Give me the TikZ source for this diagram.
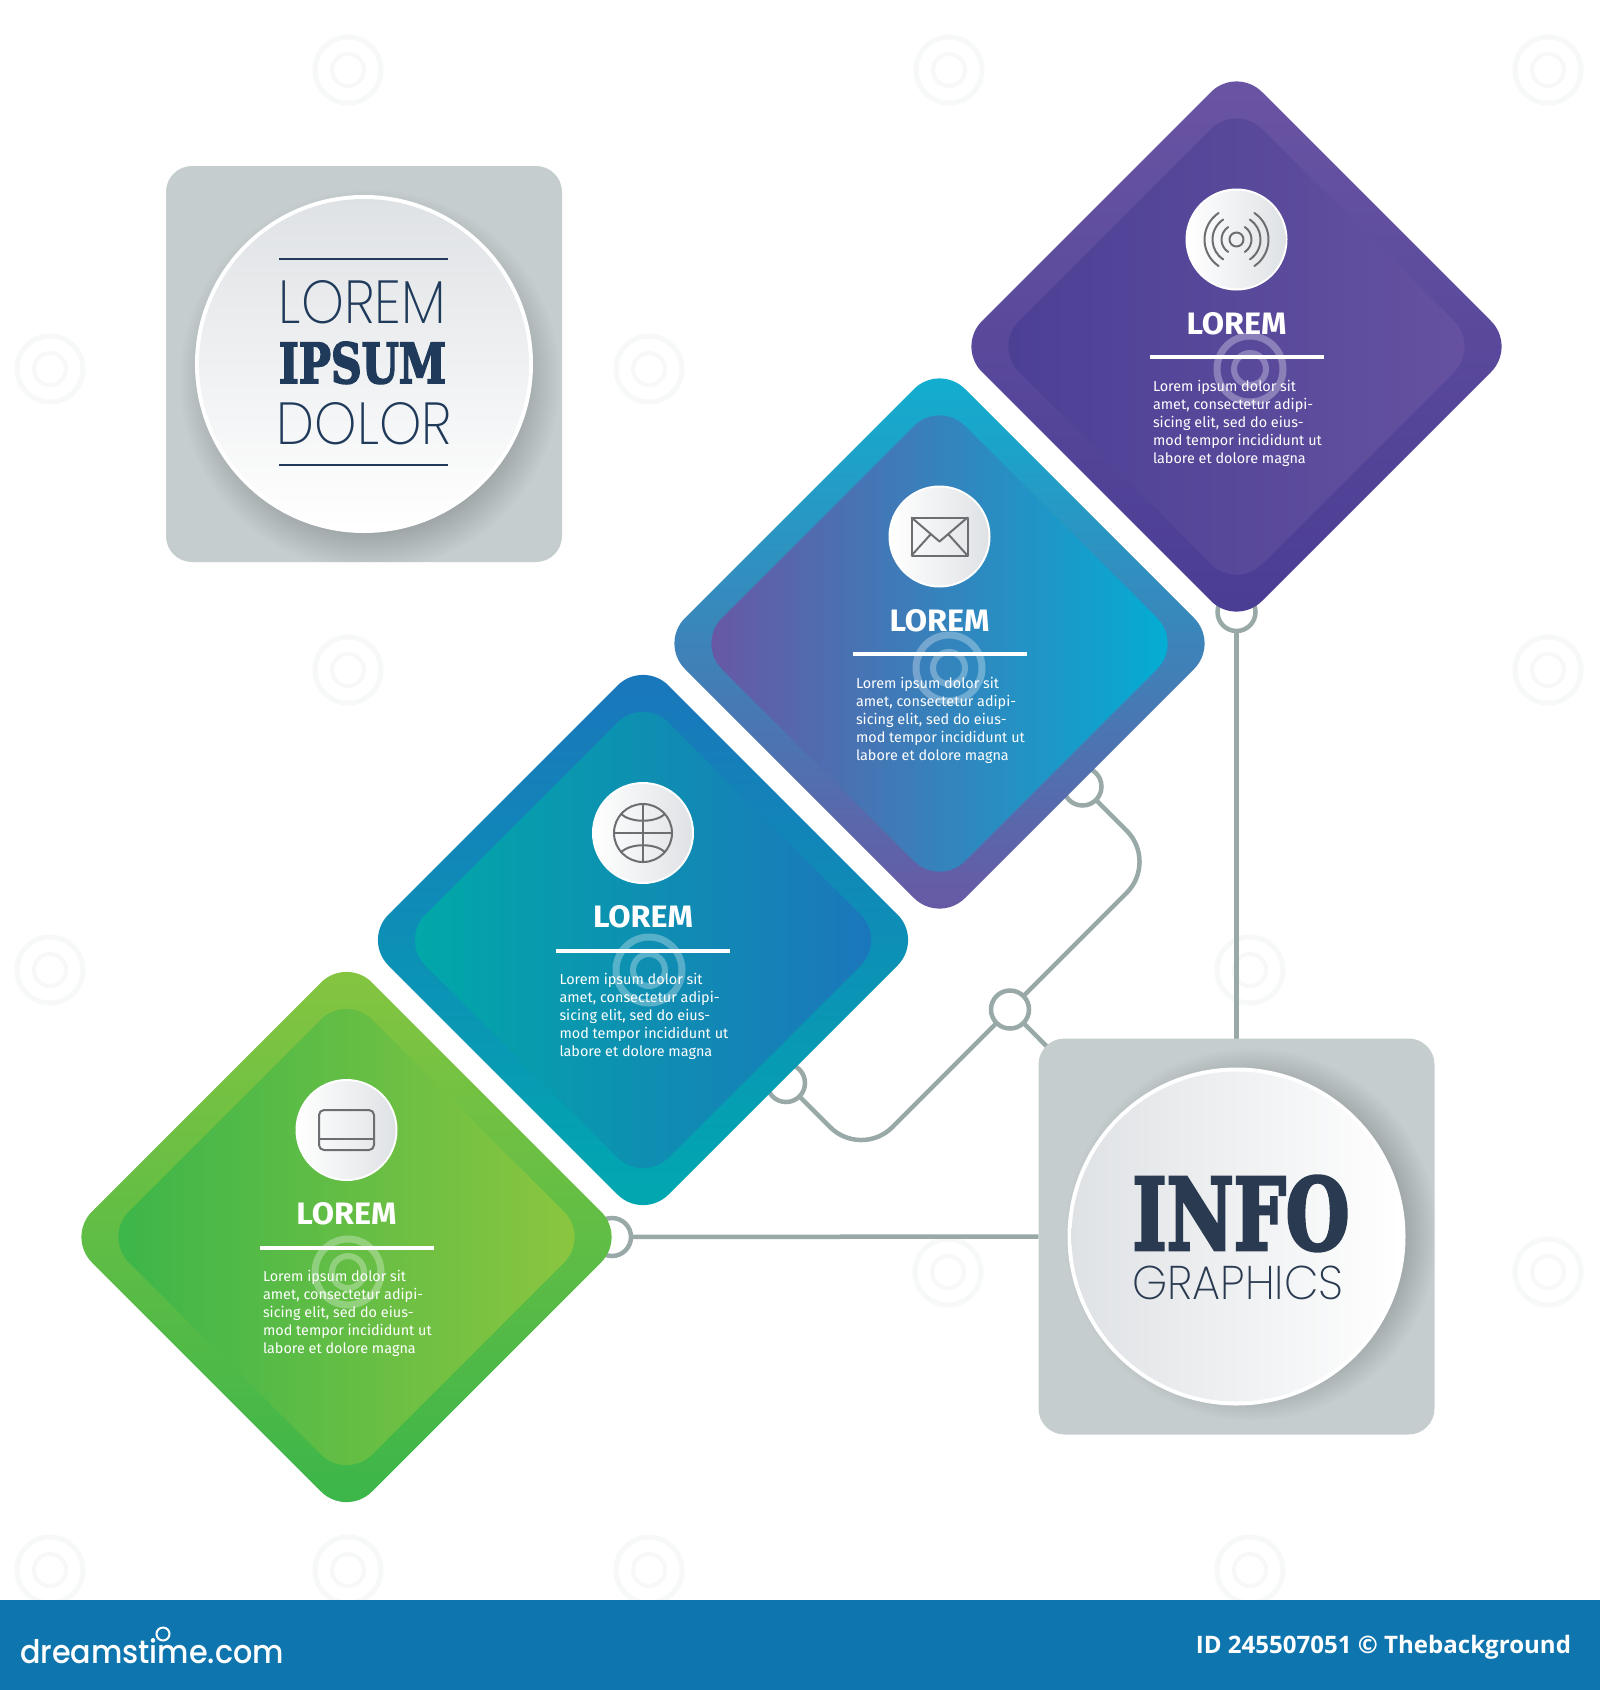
\documentclass[tikz,border=0pt]{standalone}
\usepackage{graphicx}
\usepackage{fontspec}
\usetikzlibrary{shapes.geometric,calc,backgrounds}
\setmainfont{Fira Sans}
\newfontfamily\thinfont{Poppins ExtraLight}
\newfontfamily\slabfont[FakeBold=3.5]{DejaVu Serif Bold}
\newfontfamily\footfont{Open Sans}
\newfontfamily\logofont{Poppins Medium}
\definecolor{panelgrey}{HTML}{C5CDCF}
\definecolor{connline}{HTML}{98A9A8}
\definecolor{inkA}{HTML}{1F3A5A}
\definecolor{inkB}{HTML}{2A3A50}
\definecolor{iconink}{HTML}{6D6E71}
\definecolor{footblue}{HTML}{0F75AE}
\definecolor{discshade}{HTML}{DFE2E5}
\definecolor{shadowcol}{HTML}{5F6B6B}
\definecolor{markcol}{HTML}{DDE0E0}
\tikzset{
  panelbox/.style={rectangle,fill=panelgrey,minimum size=396pt,inner sep=0pt,outer sep=0pt,rounded corners=26pt},
  discring/.style={circle,fill=white,minimum size=338pt,inner sep=0pt,outer sep=0pt},
  discface/.style={circle,minimum size=330pt,inner sep=0pt,outer sep=0pt},
  outercard/.style={diamond,aspect=1,minimum width=560pt,minimum height=560pt,inner sep=0pt,outer sep=0pt,rounded corners=36pt},
  innercard/.style={diamond,aspect=1,minimum width=486pt,minimum height=486pt,inner sep=0pt,outer sep=0pt,rounded corners=36pt},
  iconring/.style={circle,fill=white,minimum size=102pt,inner sep=0pt,outer sep=0pt},
  iconface/.style={circle,minimum size=98pt,inner sep=0pt,outer sep=0pt,left color=white,right color=discshade},
  joint/.style={circle,draw=connline,line width=4.5pt,fill=white,minimum size=38pt,inner sep=0pt,outer sep=0pt},
  conn/.style={draw=connline,line width=4.5pt},
  iconline/.style={draw=iconink,line width=2pt,line cap=round,line join=round},
  plainlabel/.style={inner sep=0pt,outer sep=0pt,anchor=base},
  bodytext/.style={inner sep=0pt,outer sep=0pt,anchor=north west,align=left,text=white,font=\fontsize{14.4}{18}\selectfont},
  headrule/.style={draw=white,line width=4pt},
  inkrule/.style={draw=inkA,line width=2pt},
}
\newcommand{\swirlpage}[2]{%
  \draw[markcol,opacity=.22,line width=5pt] (#1,#2) circle[radius=33pt];
  \draw[markcol,opacity=.22,line width=4pt] (#1,#2) circle[radius=16pt];
}
\newcommand{\swirlcard}[2]{%
  \draw[white,opacity=.3,line width=7pt] (#1,#2) circle[radius=33pt];
  \draw[white,opacity=.3,line width=6pt] (#1,#2) circle[radius=16pt];
}
\newcommand{\infocard}[7]{%
  \definecolor{top#1}{HTML}{#4}\definecolor{bot#1}{HTML}{#5}%
  \definecolor{lft#1}{HTML}{#6}\definecolor{rgt#1}{HTML}{#7}%
  \node[outercard,top color=top#1,bottom color=bot#1] (card#1) at (#2,#3) {};
  \node[innercard,left color=lft#1,right color=rgt#1] (inner#1) at (card#1.center) {};
  \node[iconring] (ring#1) at ($(card#1.center)+(0,-107)$) {};
  \node[iconface] (icon#1) at (ring#1.center) {};
  \node[plainlabel,text=white] (head#1) at ($(card#1.center)+(0,-12.5)$) {\resizebox{100pt}{22pt}{\bfseries LOREM}};
  \coordinate (ruleL#1) at ($(card#1.center)+(-87,10.5)$);
  \coordinate (ruleR#1) at ($(card#1.center)+(87,10.5)$);
  \draw[headrule] (ruleL#1) -- (ruleR#1);
  \node[bodytext] (body#1) at ($(card#1.center)+(-83.5,33.5)$) {Lorem ipsum dolor sit\\amet, consectetur adipi-\\sicing elit, sed do eius-\\mod tempor incididunt ut\\labore et dolore magna};
}
\begin{document}
\begin{tikzpicture}[x=1pt,y=-1pt]
\useasboundingbox (0,0) rectangle (1600,1690);
% joints
\node[joint] (jointD) at (1236.5,612) {};
\node[joint] (jointC) at (1082.5,786.5) {};
\node[joint] (jointB) at (786,1083) {};
\node[joint] (jointA) at (612,1237) {};
\node[joint] (jointM) at (1010,1009.5) {};
\coordinate (bendR) at (1157.75,861.75);
\coordinate (bendL) at (861.25,1158.25);
% title panel
\node[panelbox] (panelA) at (364,364) {};
\begin{scope}
  \clip[rounded corners=26pt] (panelA.south west) rectangle (panelA.north east);
  \foreach \i in {1,...,20}{\fill[shadowcol,opacity=.018] ($(panelA.center)+(6,16)$) circle[radius={150pt+\i*2pt}];}
\end{scope}
\node[discring] (discringA) at (panelA.center) {};
\node[discface,top color=discshade,bottom color=white] (discA) at (panelA.center) {};
\coordinate (ruleAtl) at (279,259);
\coordinate (ruleAtr) at (448,259);
\coordinate (ruleAbl) at (279,465);
\coordinate (ruleAbr) at (448,465);
\draw[inkrule] (ruleAtl) -- (ruleAtr);
\draw[inkrule] (ruleAbl) -- (ruleAbr);
\node[plainlabel,text=inkA] (tLorem) at (362.5,323) {\resizebox{167pt}{43pt}{\thinfont LOREM}};
\node[plainlabel,text=inkA] (tIpsum) at (362.5,383) {\resizebox{167pt}{41pt}{\slabfont IPSUM}};
\node[plainlabel,text=inkA] (tDolor) at (364.5,444) {\resizebox{175pt}{42pt}{\thinfont DOLOR}};
% info panel
\node[panelbox] (info) at (1236.5,1236.5) {};
\begin{scope}
  \clip[rounded corners=26pt] (info.south west) rectangle (info.north east);
  \foreach \i in {1,...,20}{\fill[shadowcol,opacity=.018] ($(info.center)+(15,-2)$) circle[radius={150pt+\i*1.8pt}];}
\end{scope}
\node[discring] (discringB) at (info.center) {};
\node[discface,left color=discshade,right color=white] (discB) at (info.center) {};
\node[plainlabel,text=inkB] (tInfo) at (1241,1249.5) {\resizebox{217pt}{73.5pt}{\slabfont INFO}};
\node[plainlabel,text=inkB] (tGraph) at (1238,1299) {\resizebox{211pt}{33.5pt}{\thinfont GRAPHICS}};
% cards
\infocard{A}{346.5}{1237}{86C540}{3AB54A}{3AB54A}{8DC63F}
\infocard{B}{643}{940}{1A75BC}{00A9B0}{00A9A8}{1C75BC}
\infocard{C}{939.5}{643.5}{0FB0D0}{6A57A3}{6B55A3}{00B0D5}
\infocard{D}{1236.5}{346.5}{6A55A3}{493C93}{4B3F95}{6652A0}
% connectors
\begin{scope}[on background layer]
  \fill[white] (0,0) rectangle (1600,1690);
  \foreach \px/\py in {348/70,949/70,1548/70,50/369,649/369,348/670,1548/670,50/970,1250/970,948/1272,1548/1272,348/1570,50/1570,649/1570,1250/1570}{\swirlpage{\px}{\py}}
  \draw[conn] (jointA.center) -- (info.west);
  \draw[conn] (jointD.center) -- (info.north);
  \draw[conn] (jointM.center) -- (info.center);
  \draw[conn,rounded corners=44pt] (jointC.center) -- (bendR) -- (jointM.center);
  \draw[conn,rounded corners=44pt] (jointB.center) -- (bendL) -- (jointM.center);
\end{scope}
% icons
\begin{scope}[shift={(iconA.center)}]
  \draw[iconline,rounded corners=5pt] (-27.5,-20) rectangle (27.5,20);
  \draw[iconline] (-27.5,8.5) -- (27.5,8.5);
\end{scope}
\begin{scope}[shift={(iconB.center)}]
  \draw[iconline] (0,0) circle[radius=29pt];
  \draw[iconline] (0,-29) -- (0,29);
  \draw[iconline] (-29,0) -- (29,0);
  \draw[iconline] (-22,-19) .. controls (-12,-10) and (12,-10) .. (22,-19);
  \draw[iconline] (-22,19) .. controls (-12,10) and (12,10) .. (22,19);
\end{scope}
\begin{scope}[shift={(iconC.center)}]
  \draw[iconline] (-28,-19) rectangle (28,19);
  \draw[iconline] (-28,-19) -- (0,5) -- (28,-19);
  \draw[iconline] (-28,19) -- (-9,-2);
  \draw[iconline] (28,19) -- (9,-2);
\end{scope}
\begin{scope}[shift={(iconD.center)}]
  \draw[iconline] (0,0) circle[radius=7pt];
  \foreach \r in {15,24,32}{
    \draw[iconline] (0,0) ++(-56:\r pt) arc (-56:56:\r pt);
    \draw[iconline] (0,0) ++(124:\r pt) arc (124:236:\r pt);
  }
\end{scope}
% watermark swirls over the cards
\swirlcard{1250}{369}
\swirlcard{949}{668}
\swirlcard{649}{970}
\swirlcard{348}{1272}
% footer
\node[fill=footblue,minimum width=1600pt,minimum height=90pt,inner sep=0pt,outer sep=0pt,anchor=north west] (footer) at (0,1600) {};
\node[plainlabel,anchor=base west,text=white] (logo) at (20,1663) {\resizebox{264pt}{25pt}{\logofont dreamstime.com}};
\node[circle,draw=white,line width=2pt,minimum size=13pt,inner sep=0pt] (logoswirl) at (163,1634) {};
\node[plainlabel,anchor=base east,text=white] (credit) at (1571,1653) {\resizebox{375pt}{!}{\footfont\bfseries ID 245507051 © Thebackground}};
\end{tikzpicture}
\end{document}
